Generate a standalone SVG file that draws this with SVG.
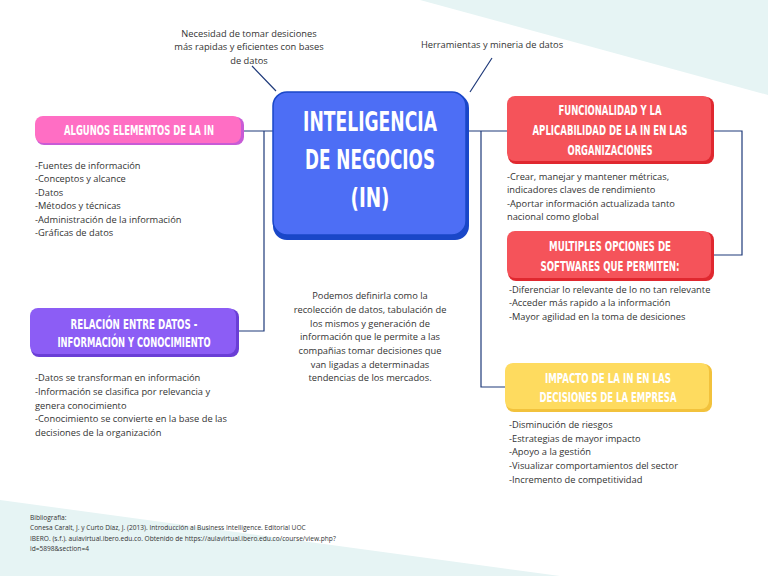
<svg xmlns="http://www.w3.org/2000/svg" width="768" height="576" viewBox="0 0 768 576">
<style>
.t{font-family:"Open Sans","Liberation Sans",sans-serif;font-size:9.3px;fill:#333}
.h{font-family:"DejaVu Sans Condensed","Liberation Sans Narrow",sans-serif;font-weight:bold;fill:#fff;text-anchor:middle;font-size:14.5px}
.c{stroke:#1f3a7a;stroke-width:1.2;fill:none}
</style>
<rect width="768" height="576" fill="#fff"/>
<polygon points="420,0 768,0 768,95" fill="#e6f4f4"/>
<polygon points="0,500 560,576 0,576" fill="#e6f4f4"/>
<g id="connectors">
<path class="c" d="M243,131H273M264,131V331H237"/>
<path class="c" d="M468,131H507M481,131V387H505"/>
<path class="c" d="M713,131H742V255H713"/>
<path class="c" d="M252,66L276,91M492,58L470,92"/>
</g>
<g id="center">
<rect x="273" y="94" width="196" height="146" rx="14" fill="#1a47c8"/>
<rect x="273" y="92" width="193" height="143" rx="14" fill="#4d6ef5" stroke="#1a47c8" stroke-width="1.5"/>
<g class="h" style="font-size:27px"><text x="370" y="131" textLength="134" lengthAdjust="spacingAndGlyphs">INTELIGENCIA</text><text x="370" y="169" textLength="130" lengthAdjust="spacingAndGlyphs">DE NEGOCIOS</text><text x="370" y="207" textLength="39" lengthAdjust="spacingAndGlyphs">(IN)</text></g>
</g>
<g id="n1"><rect x="36" y="117" width="208" height="28" rx="8" fill="#c85bd6"/><rect x="35" y="116" width="206" height="27" rx="8" fill="#ff6ec4"/><text class="h" x="139" y="135" textLength="150" lengthAdjust="spacingAndGlyphs">ALGUNOS ELEMENTOS DE LA IN</text></g>
<g id="n2"><rect x="31" y="309" width="208" height="48" rx="8" fill="#6a3ed6"/><rect x="30" y="308" width="206" height="46" rx="8" fill="#8c5df5"/><text class="h" x="134" y="329" textLength="127" lengthAdjust="spacingAndGlyphs">RELACIÓN ENTRE DATOS -</text><text class="h" x="134" y="347" textLength="153" lengthAdjust="spacingAndGlyphs">INFORMACIÓN Y CONOCIMIENTO</text></g>
<g id="n3"><rect x="508" y="97" width="206" height="67" rx="8" fill="#e0282f"/><rect x="507" y="96" width="204" height="65" rx="8" fill="#f5535a"/><text class="h" x="610" y="115" textLength="103" lengthAdjust="spacingAndGlyphs">FUNCIONALIDAD Y LA</text><text class="h" x="610" y="135" textLength="155" lengthAdjust="spacingAndGlyphs">APLICABILIDAD DE LA IN EN LAS</text><text class="h" x="610" y="155" textLength="85" lengthAdjust="spacingAndGlyphs">ORGANIZACIONES</text></g>
<g id="n4"><rect x="508" y="232" width="206" height="49" rx="8" fill="#e0282f"/><rect x="507" y="231" width="204" height="47" rx="8" fill="#f5535a"/><text class="h" x="610" y="251" textLength="122" lengthAdjust="spacingAndGlyphs">MULTIPLES OPCIONES DE</text><text class="h" x="610" y="271" textLength="139" lengthAdjust="spacingAndGlyphs">SOFTWARES QUE PERMITEN:</text></g>
<g id="n5"><rect x="506" y="364" width="206" height="48" rx="8" fill="#f2c23c"/><rect x="505" y="363" width="204" height="46" rx="8" fill="#fedb5f"/><text class="h" x="608" y="383" textLength="126" lengthAdjust="spacingAndGlyphs">IMPACTO DE LA IN EN LAS</text><text class="h" x="608" y="402" textLength="137" lengthAdjust="spacingAndGlyphs">DECISIONES DE LA EMPRESA</text></g>
<g class="t">
<text x="249" y="37" text-anchor="middle">Necesidad de tomar desiciones</text>
<text x="249" y="50" text-anchor="middle">más rapidas y eficientes con bases</text>
<text x="249" y="64" text-anchor="middle">de datos</text>
<text x="492" y="48" text-anchor="middle">Herramientas y mineria de datos</text>
<text x="35" y="169">-Fuentes de información</text>
<text x="35" y="182">-Conceptos y alcance</text>
<text x="35" y="196">-Datos</text>
<text x="35" y="209">-Métodos y técnicas</text>
<text x="35" y="223">-Administración de la información</text>
<text x="35" y="236">-Gráficas de datos</text>
<text x="370" y="299" text-anchor="middle">Podemos definirla como la</text>
<text x="370" y="313" text-anchor="middle">recolección de datos, tabulación de</text>
<text x="370" y="327" text-anchor="middle">los mismos y generación de</text>
<text x="370" y="340" text-anchor="middle">información que le permite a las</text>
<text x="370" y="354" text-anchor="middle">compañias tomar decisiones que</text>
<text x="370" y="368" text-anchor="middle">van ligadas a determinadas</text>
<text x="370" y="381" text-anchor="middle">tendencias de los mercados.</text>
<text x="35" y="381">-Datos se transforman en información</text>
<text x="35" y="395">-Información se clasifica por relevancia y</text>
<text x="35" y="409">genera conocimiento</text>
<text x="35" y="422">-Conocimiento se convierte en la base de las</text>
<text x="35" y="436">decisiones de la organización</text>
<text x="507" y="180">-Crear, manejar y mantener métricas,</text>
<text x="507" y="193">indicadores claves de rendimiento</text>
<text x="507" y="207">-Aportar información actualizada tanto</text>
<text x="507" y="220">nacional como global</text>
<text x="509" y="293">-Diferenciar lo relevante de lo no tan relevante</text>
<text x="509" y="306">-Acceder más rapido a la información</text>
<text x="509" y="320">-Mayor agilidad en la toma de desiciones</text>
<text x="509" y="428">-Disminución de riesgos</text>
<text x="509" y="442">-Estrategias de mayor impacto</text>
<text x="509" y="455">-Apoyo a la gestión</text>
<text x="509" y="469">-Visualizar comportamientos del sector</text>
<text x="509" y="483">-Incremento de competitividad</text>
</g>
<g class="t" style="font-size:6.6px">
<text x="30" y="520">Bibliografia:</text>
<text x="30" y="530">Conesa Caralt, J. y Curto Díaz, J. (2013). Introducción al Business Intelligence. Editorial UOC</text>
<text x="30" y="541">IBERO. (s.f.). aulavirtual.ibero.edu.co. Obtenido de https://aulavirtual.ibero.edu.co/course/view.php?</text>
<text x="30" y="551">id=5898&amp;section=4</text>
</g>
</svg>
